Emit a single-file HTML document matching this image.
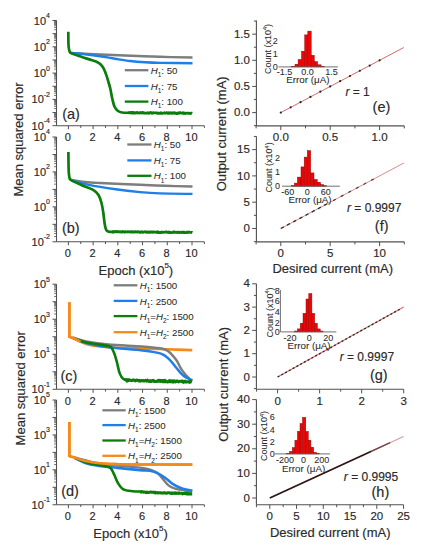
<!DOCTYPE html>
<html><head><meta charset="utf-8"><style>
html,body{margin:0;padding:0;background:#fff;width:430px;height:550px;overflow:hidden}
svg{display:block;font-family:"Liberation Sans", sans-serif}
text{stroke:#2a2a2a;stroke-width:0.16px}
.sm{stroke-width:0.06px}
</style></head><body>
<svg width="430" height="550" viewBox="0 0 430 550">
<rect width="430" height="550" fill="#fff"/>
<line x1="56.5" y1="20.5" x2="56.5" y2="125.7" stroke="#505050" stroke-width="1.1"/>
<line x1="52.5" y1="125.7" x2="56.5" y2="125.7" stroke="#505050" stroke-width="1"/>
<line x1="54.1" y1="121.74" x2="56.5" y2="121.74" stroke="#505050" stroke-width="0.8"/>
<line x1="54.1" y1="119.43" x2="56.5" y2="119.43" stroke="#505050" stroke-width="0.8"/>
<line x1="54.1" y1="117.78" x2="56.5" y2="117.78" stroke="#505050" stroke-width="0.8"/>
<line x1="54.1" y1="116.51" x2="56.5" y2="116.51" stroke="#505050" stroke-width="0.8"/>
<line x1="54.1" y1="115.47" x2="56.5" y2="115.47" stroke="#505050" stroke-width="0.8"/>
<line x1="54.1" y1="114.59" x2="56.5" y2="114.59" stroke="#505050" stroke-width="0.8"/>
<line x1="54.1" y1="113.82" x2="56.5" y2="113.82" stroke="#505050" stroke-width="0.8"/>
<line x1="54.1" y1="113.15" x2="56.5" y2="113.15" stroke="#505050" stroke-width="0.8"/>
<line x1="52.5" y1="112.55" x2="56.5" y2="112.55" stroke="#505050" stroke-width="1"/>
<line x1="54.1" y1="108.59" x2="56.5" y2="108.59" stroke="#505050" stroke-width="0.8"/>
<line x1="54.1" y1="106.28" x2="56.5" y2="106.28" stroke="#505050" stroke-width="0.8"/>
<line x1="54.1" y1="104.63" x2="56.5" y2="104.63" stroke="#505050" stroke-width="0.8"/>
<line x1="54.1" y1="103.36" x2="56.5" y2="103.36" stroke="#505050" stroke-width="0.8"/>
<line x1="54.1" y1="102.32" x2="56.5" y2="102.32" stroke="#505050" stroke-width="0.8"/>
<line x1="54.1" y1="101.44" x2="56.5" y2="101.44" stroke="#505050" stroke-width="0.8"/>
<line x1="54.1" y1="100.67" x2="56.5" y2="100.67" stroke="#505050" stroke-width="0.8"/>
<line x1="54.1" y1="100" x2="56.5" y2="100" stroke="#505050" stroke-width="0.8"/>
<line x1="52.5" y1="99.4" x2="56.5" y2="99.4" stroke="#505050" stroke-width="1"/>
<line x1="54.1" y1="95.44" x2="56.5" y2="95.44" stroke="#505050" stroke-width="0.8"/>
<line x1="54.1" y1="93.13" x2="56.5" y2="93.13" stroke="#505050" stroke-width="0.8"/>
<line x1="54.1" y1="91.48" x2="56.5" y2="91.48" stroke="#505050" stroke-width="0.8"/>
<line x1="54.1" y1="90.21" x2="56.5" y2="90.21" stroke="#505050" stroke-width="0.8"/>
<line x1="54.1" y1="89.17" x2="56.5" y2="89.17" stroke="#505050" stroke-width="0.8"/>
<line x1="54.1" y1="88.29" x2="56.5" y2="88.29" stroke="#505050" stroke-width="0.8"/>
<line x1="54.1" y1="87.52" x2="56.5" y2="87.52" stroke="#505050" stroke-width="0.8"/>
<line x1="54.1" y1="86.85" x2="56.5" y2="86.85" stroke="#505050" stroke-width="0.8"/>
<line x1="52.5" y1="86.25" x2="56.5" y2="86.25" stroke="#505050" stroke-width="1"/>
<line x1="54.1" y1="82.29" x2="56.5" y2="82.29" stroke="#505050" stroke-width="0.8"/>
<line x1="54.1" y1="79.98" x2="56.5" y2="79.98" stroke="#505050" stroke-width="0.8"/>
<line x1="54.1" y1="78.33" x2="56.5" y2="78.33" stroke="#505050" stroke-width="0.8"/>
<line x1="54.1" y1="77.06" x2="56.5" y2="77.06" stroke="#505050" stroke-width="0.8"/>
<line x1="54.1" y1="76.02" x2="56.5" y2="76.02" stroke="#505050" stroke-width="0.8"/>
<line x1="54.1" y1="75.14" x2="56.5" y2="75.14" stroke="#505050" stroke-width="0.8"/>
<line x1="54.1" y1="74.37" x2="56.5" y2="74.37" stroke="#505050" stroke-width="0.8"/>
<line x1="54.1" y1="73.7" x2="56.5" y2="73.7" stroke="#505050" stroke-width="0.8"/>
<line x1="52.5" y1="73.1" x2="56.5" y2="73.1" stroke="#505050" stroke-width="1"/>
<line x1="54.1" y1="69.14" x2="56.5" y2="69.14" stroke="#505050" stroke-width="0.8"/>
<line x1="54.1" y1="66.83" x2="56.5" y2="66.83" stroke="#505050" stroke-width="0.8"/>
<line x1="54.1" y1="65.18" x2="56.5" y2="65.18" stroke="#505050" stroke-width="0.8"/>
<line x1="54.1" y1="63.91" x2="56.5" y2="63.91" stroke="#505050" stroke-width="0.8"/>
<line x1="54.1" y1="62.87" x2="56.5" y2="62.87" stroke="#505050" stroke-width="0.8"/>
<line x1="54.1" y1="61.99" x2="56.5" y2="61.99" stroke="#505050" stroke-width="0.8"/>
<line x1="54.1" y1="61.22" x2="56.5" y2="61.22" stroke="#505050" stroke-width="0.8"/>
<line x1="54.1" y1="60.55" x2="56.5" y2="60.55" stroke="#505050" stroke-width="0.8"/>
<line x1="52.5" y1="59.95" x2="56.5" y2="59.95" stroke="#505050" stroke-width="1"/>
<line x1="54.1" y1="55.99" x2="56.5" y2="55.99" stroke="#505050" stroke-width="0.8"/>
<line x1="54.1" y1="53.68" x2="56.5" y2="53.68" stroke="#505050" stroke-width="0.8"/>
<line x1="54.1" y1="52.03" x2="56.5" y2="52.03" stroke="#505050" stroke-width="0.8"/>
<line x1="54.1" y1="50.76" x2="56.5" y2="50.76" stroke="#505050" stroke-width="0.8"/>
<line x1="54.1" y1="49.72" x2="56.5" y2="49.72" stroke="#505050" stroke-width="0.8"/>
<line x1="54.1" y1="48.84" x2="56.5" y2="48.84" stroke="#505050" stroke-width="0.8"/>
<line x1="54.1" y1="48.07" x2="56.5" y2="48.07" stroke="#505050" stroke-width="0.8"/>
<line x1="54.1" y1="47.4" x2="56.5" y2="47.4" stroke="#505050" stroke-width="0.8"/>
<line x1="52.5" y1="46.8" x2="56.5" y2="46.8" stroke="#505050" stroke-width="1"/>
<line x1="54.1" y1="42.84" x2="56.5" y2="42.84" stroke="#505050" stroke-width="0.8"/>
<line x1="54.1" y1="40.53" x2="56.5" y2="40.53" stroke="#505050" stroke-width="0.8"/>
<line x1="54.1" y1="38.88" x2="56.5" y2="38.88" stroke="#505050" stroke-width="0.8"/>
<line x1="54.1" y1="37.61" x2="56.5" y2="37.61" stroke="#505050" stroke-width="0.8"/>
<line x1="54.1" y1="36.57" x2="56.5" y2="36.57" stroke="#505050" stroke-width="0.8"/>
<line x1="54.1" y1="35.69" x2="56.5" y2="35.69" stroke="#505050" stroke-width="0.8"/>
<line x1="54.1" y1="34.92" x2="56.5" y2="34.92" stroke="#505050" stroke-width="0.8"/>
<line x1="54.1" y1="34.25" x2="56.5" y2="34.25" stroke="#505050" stroke-width="0.8"/>
<line x1="52.5" y1="33.65" x2="56.5" y2="33.65" stroke="#505050" stroke-width="1"/>
<line x1="54.1" y1="29.69" x2="56.5" y2="29.69" stroke="#505050" stroke-width="0.8"/>
<line x1="54.1" y1="27.38" x2="56.5" y2="27.38" stroke="#505050" stroke-width="0.8"/>
<line x1="54.1" y1="25.73" x2="56.5" y2="25.73" stroke="#505050" stroke-width="0.8"/>
<line x1="54.1" y1="24.46" x2="56.5" y2="24.46" stroke="#505050" stroke-width="0.8"/>
<line x1="54.1" y1="23.42" x2="56.5" y2="23.42" stroke="#505050" stroke-width="0.8"/>
<line x1="54.1" y1="22.54" x2="56.5" y2="22.54" stroke="#505050" stroke-width="0.8"/>
<line x1="54.1" y1="21.77" x2="56.5" y2="21.77" stroke="#505050" stroke-width="0.8"/>
<line x1="54.1" y1="21.1" x2="56.5" y2="21.1" stroke="#505050" stroke-width="0.8"/>
<line x1="52.5" y1="20.5" x2="56.5" y2="20.5" stroke="#505050" stroke-width="1"/>
<line x1="56.5" y1="125.7" x2="204.3" y2="125.7" stroke="#505050" stroke-width="1.1"/>
<line x1="68.4" y1="125.7" x2="68.4" y2="129.2" stroke="#505050" stroke-width="1"/>
<line x1="80.76" y1="125.7" x2="80.76" y2="127.9" stroke="#505050" stroke-width="1"/>
<line x1="93.12" y1="125.7" x2="93.12" y2="129.2" stroke="#505050" stroke-width="1"/>
<line x1="105.48" y1="125.7" x2="105.48" y2="127.9" stroke="#505050" stroke-width="1"/>
<line x1="117.84" y1="125.7" x2="117.84" y2="129.2" stroke="#505050" stroke-width="1"/>
<line x1="130.2" y1="125.7" x2="130.2" y2="127.9" stroke="#505050" stroke-width="1"/>
<line x1="142.56" y1="125.7" x2="142.56" y2="129.2" stroke="#505050" stroke-width="1"/>
<line x1="154.92" y1="125.7" x2="154.92" y2="127.9" stroke="#505050" stroke-width="1"/>
<line x1="167.28" y1="125.7" x2="167.28" y2="129.2" stroke="#505050" stroke-width="1"/>
<line x1="179.64" y1="125.7" x2="179.64" y2="127.9" stroke="#505050" stroke-width="1"/>
<line x1="192" y1="125.7" x2="192" y2="129.2" stroke="#505050" stroke-width="1"/>
<line x1="204.36" y1="125.7" x2="204.36" y2="127.9" stroke="#505050" stroke-width="1"/>
<text x="50" y="24.5" font-size="11" text-anchor="end" fill="#2a2a2a">10<tspan font-size="7" dy="-6.6">4</tspan></text>
<text x="50" y="50.8" font-size="11" text-anchor="end" fill="#2a2a2a">10<tspan font-size="7" dy="-6.6">2</tspan></text>
<text x="50" y="77.1" font-size="11" text-anchor="end" fill="#2a2a2a">10<tspan font-size="7" dy="-6.6">0</tspan></text>
<text x="50" y="103.4" font-size="11" text-anchor="end" fill="#2a2a2a">10<tspan font-size="7" dy="-6.6">-2</tspan></text>
<text x="50" y="129.7" font-size="11" text-anchor="end" fill="#2a2a2a">10<tspan font-size="7" dy="-6.6">-4</tspan></text>
<line x1="56.5" y1="137" x2="56.5" y2="241.8" stroke="#505050" stroke-width="1.1"/>
<line x1="52.5" y1="241.8" x2="56.5" y2="241.8" stroke="#505050" stroke-width="1"/>
<line x1="54.1" y1="236.54" x2="56.5" y2="236.54" stroke="#505050" stroke-width="0.8"/>
<line x1="54.1" y1="233.47" x2="56.5" y2="233.47" stroke="#505050" stroke-width="0.8"/>
<line x1="54.1" y1="231.28" x2="56.5" y2="231.28" stroke="#505050" stroke-width="0.8"/>
<line x1="54.1" y1="229.59" x2="56.5" y2="229.59" stroke="#505050" stroke-width="0.8"/>
<line x1="54.1" y1="228.21" x2="56.5" y2="228.21" stroke="#505050" stroke-width="0.8"/>
<line x1="54.1" y1="227.04" x2="56.5" y2="227.04" stroke="#505050" stroke-width="0.8"/>
<line x1="54.1" y1="226.03" x2="56.5" y2="226.03" stroke="#505050" stroke-width="0.8"/>
<line x1="54.1" y1="225.13" x2="56.5" y2="225.13" stroke="#505050" stroke-width="0.8"/>
<line x1="52.5" y1="224.33" x2="56.5" y2="224.33" stroke="#505050" stroke-width="1"/>
<line x1="54.1" y1="219.08" x2="56.5" y2="219.08" stroke="#505050" stroke-width="0.8"/>
<line x1="54.1" y1="216" x2="56.5" y2="216" stroke="#505050" stroke-width="0.8"/>
<line x1="54.1" y1="213.82" x2="56.5" y2="213.82" stroke="#505050" stroke-width="0.8"/>
<line x1="54.1" y1="212.12" x2="56.5" y2="212.12" stroke="#505050" stroke-width="0.8"/>
<line x1="54.1" y1="210.74" x2="56.5" y2="210.74" stroke="#505050" stroke-width="0.8"/>
<line x1="54.1" y1="209.57" x2="56.5" y2="209.57" stroke="#505050" stroke-width="0.8"/>
<line x1="54.1" y1="208.56" x2="56.5" y2="208.56" stroke="#505050" stroke-width="0.8"/>
<line x1="54.1" y1="207.67" x2="56.5" y2="207.67" stroke="#505050" stroke-width="0.8"/>
<line x1="52.5" y1="206.87" x2="56.5" y2="206.87" stroke="#505050" stroke-width="1"/>
<line x1="54.1" y1="201.61" x2="56.5" y2="201.61" stroke="#505050" stroke-width="0.8"/>
<line x1="54.1" y1="198.53" x2="56.5" y2="198.53" stroke="#505050" stroke-width="0.8"/>
<line x1="54.1" y1="196.35" x2="56.5" y2="196.35" stroke="#505050" stroke-width="0.8"/>
<line x1="54.1" y1="194.66" x2="56.5" y2="194.66" stroke="#505050" stroke-width="0.8"/>
<line x1="54.1" y1="193.27" x2="56.5" y2="193.27" stroke="#505050" stroke-width="0.8"/>
<line x1="54.1" y1="192.11" x2="56.5" y2="192.11" stroke="#505050" stroke-width="0.8"/>
<line x1="54.1" y1="191.09" x2="56.5" y2="191.09" stroke="#505050" stroke-width="0.8"/>
<line x1="54.1" y1="190.2" x2="56.5" y2="190.2" stroke="#505050" stroke-width="0.8"/>
<line x1="52.5" y1="189.4" x2="56.5" y2="189.4" stroke="#505050" stroke-width="1"/>
<line x1="54.1" y1="184.14" x2="56.5" y2="184.14" stroke="#505050" stroke-width="0.8"/>
<line x1="54.1" y1="181.07" x2="56.5" y2="181.07" stroke="#505050" stroke-width="0.8"/>
<line x1="54.1" y1="178.88" x2="56.5" y2="178.88" stroke="#505050" stroke-width="0.8"/>
<line x1="54.1" y1="177.19" x2="56.5" y2="177.19" stroke="#505050" stroke-width="0.8"/>
<line x1="54.1" y1="175.81" x2="56.5" y2="175.81" stroke="#505050" stroke-width="0.8"/>
<line x1="54.1" y1="174.64" x2="56.5" y2="174.64" stroke="#505050" stroke-width="0.8"/>
<line x1="54.1" y1="173.63" x2="56.5" y2="173.63" stroke="#505050" stroke-width="0.8"/>
<line x1="54.1" y1="172.73" x2="56.5" y2="172.73" stroke="#505050" stroke-width="0.8"/>
<line x1="52.5" y1="171.93" x2="56.5" y2="171.93" stroke="#505050" stroke-width="1"/>
<line x1="54.1" y1="166.68" x2="56.5" y2="166.68" stroke="#505050" stroke-width="0.8"/>
<line x1="54.1" y1="163.6" x2="56.5" y2="163.6" stroke="#505050" stroke-width="0.8"/>
<line x1="54.1" y1="161.42" x2="56.5" y2="161.42" stroke="#505050" stroke-width="0.8"/>
<line x1="54.1" y1="159.72" x2="56.5" y2="159.72" stroke="#505050" stroke-width="0.8"/>
<line x1="54.1" y1="158.34" x2="56.5" y2="158.34" stroke="#505050" stroke-width="0.8"/>
<line x1="54.1" y1="157.17" x2="56.5" y2="157.17" stroke="#505050" stroke-width="0.8"/>
<line x1="54.1" y1="156.16" x2="56.5" y2="156.16" stroke="#505050" stroke-width="0.8"/>
<line x1="54.1" y1="155.27" x2="56.5" y2="155.27" stroke="#505050" stroke-width="0.8"/>
<line x1="52.5" y1="154.47" x2="56.5" y2="154.47" stroke="#505050" stroke-width="1"/>
<line x1="54.1" y1="149.21" x2="56.5" y2="149.21" stroke="#505050" stroke-width="0.8"/>
<line x1="54.1" y1="146.13" x2="56.5" y2="146.13" stroke="#505050" stroke-width="0.8"/>
<line x1="54.1" y1="143.95" x2="56.5" y2="143.95" stroke="#505050" stroke-width="0.8"/>
<line x1="54.1" y1="142.26" x2="56.5" y2="142.26" stroke="#505050" stroke-width="0.8"/>
<line x1="54.1" y1="140.87" x2="56.5" y2="140.87" stroke="#505050" stroke-width="0.8"/>
<line x1="54.1" y1="139.71" x2="56.5" y2="139.71" stroke="#505050" stroke-width="0.8"/>
<line x1="54.1" y1="138.69" x2="56.5" y2="138.69" stroke="#505050" stroke-width="0.8"/>
<line x1="54.1" y1="137.8" x2="56.5" y2="137.8" stroke="#505050" stroke-width="0.8"/>
<line x1="52.5" y1="137" x2="56.5" y2="137" stroke="#505050" stroke-width="1"/>
<line x1="56.5" y1="241.8" x2="204.3" y2="241.8" stroke="#505050" stroke-width="1.1"/>
<line x1="68.4" y1="241.8" x2="68.4" y2="245.3" stroke="#505050" stroke-width="1"/>
<line x1="80.76" y1="241.8" x2="80.76" y2="244" stroke="#505050" stroke-width="1"/>
<line x1="93.12" y1="241.8" x2="93.12" y2="245.3" stroke="#505050" stroke-width="1"/>
<line x1="105.48" y1="241.8" x2="105.48" y2="244" stroke="#505050" stroke-width="1"/>
<line x1="117.84" y1="241.8" x2="117.84" y2="245.3" stroke="#505050" stroke-width="1"/>
<line x1="130.2" y1="241.8" x2="130.2" y2="244" stroke="#505050" stroke-width="1"/>
<line x1="142.56" y1="241.8" x2="142.56" y2="245.3" stroke="#505050" stroke-width="1"/>
<line x1="154.92" y1="241.8" x2="154.92" y2="244" stroke="#505050" stroke-width="1"/>
<line x1="167.28" y1="241.8" x2="167.28" y2="245.3" stroke="#505050" stroke-width="1"/>
<line x1="179.64" y1="241.8" x2="179.64" y2="244" stroke="#505050" stroke-width="1"/>
<line x1="192" y1="241.8" x2="192" y2="245.3" stroke="#505050" stroke-width="1"/>
<line x1="204.36" y1="241.8" x2="204.36" y2="244" stroke="#505050" stroke-width="1"/>
<text x="50" y="141" font-size="11" text-anchor="end" fill="#2a2a2a">10<tspan font-size="7" dy="-6.6">4</tspan></text>
<text x="50" y="175.93" font-size="11" text-anchor="end" fill="#2a2a2a">10<tspan font-size="7" dy="-6.6">2</tspan></text>
<text x="50" y="210.87" font-size="11" text-anchor="end" fill="#2a2a2a">10<tspan font-size="7" dy="-6.6">0</tspan></text>
<text x="50" y="245.8" font-size="11" text-anchor="end" fill="#2a2a2a">10<tspan font-size="7" dy="-6.6">-2</tspan></text>
<line x1="56.5" y1="284.2" x2="56.5" y2="389.3" stroke="#505050" stroke-width="1.1"/>
<line x1="52.5" y1="389.3" x2="56.5" y2="389.3" stroke="#505050" stroke-width="1"/>
<line x1="54.1" y1="384.03" x2="56.5" y2="384.03" stroke="#505050" stroke-width="0.8"/>
<line x1="54.1" y1="380.94" x2="56.5" y2="380.94" stroke="#505050" stroke-width="0.8"/>
<line x1="54.1" y1="378.75" x2="56.5" y2="378.75" stroke="#505050" stroke-width="0.8"/>
<line x1="54.1" y1="377.06" x2="56.5" y2="377.06" stroke="#505050" stroke-width="0.8"/>
<line x1="54.1" y1="375.67" x2="56.5" y2="375.67" stroke="#505050" stroke-width="0.8"/>
<line x1="54.1" y1="374.5" x2="56.5" y2="374.5" stroke="#505050" stroke-width="0.8"/>
<line x1="54.1" y1="373.48" x2="56.5" y2="373.48" stroke="#505050" stroke-width="0.8"/>
<line x1="54.1" y1="372.58" x2="56.5" y2="372.58" stroke="#505050" stroke-width="0.8"/>
<line x1="52.5" y1="371.78" x2="56.5" y2="371.78" stroke="#505050" stroke-width="1"/>
<line x1="54.1" y1="366.51" x2="56.5" y2="366.51" stroke="#505050" stroke-width="0.8"/>
<line x1="54.1" y1="363.43" x2="56.5" y2="363.43" stroke="#505050" stroke-width="0.8"/>
<line x1="54.1" y1="361.24" x2="56.5" y2="361.24" stroke="#505050" stroke-width="0.8"/>
<line x1="54.1" y1="359.54" x2="56.5" y2="359.54" stroke="#505050" stroke-width="0.8"/>
<line x1="54.1" y1="358.15" x2="56.5" y2="358.15" stroke="#505050" stroke-width="0.8"/>
<line x1="54.1" y1="356.98" x2="56.5" y2="356.98" stroke="#505050" stroke-width="0.8"/>
<line x1="54.1" y1="355.96" x2="56.5" y2="355.96" stroke="#505050" stroke-width="0.8"/>
<line x1="54.1" y1="355.07" x2="56.5" y2="355.07" stroke="#505050" stroke-width="0.8"/>
<line x1="52.5" y1="354.27" x2="56.5" y2="354.27" stroke="#505050" stroke-width="1"/>
<line x1="54.1" y1="348.99" x2="56.5" y2="348.99" stroke="#505050" stroke-width="0.8"/>
<line x1="54.1" y1="345.91" x2="56.5" y2="345.91" stroke="#505050" stroke-width="0.8"/>
<line x1="54.1" y1="343.72" x2="56.5" y2="343.72" stroke="#505050" stroke-width="0.8"/>
<line x1="54.1" y1="342.02" x2="56.5" y2="342.02" stroke="#505050" stroke-width="0.8"/>
<line x1="54.1" y1="340.64" x2="56.5" y2="340.64" stroke="#505050" stroke-width="0.8"/>
<line x1="54.1" y1="339.46" x2="56.5" y2="339.46" stroke="#505050" stroke-width="0.8"/>
<line x1="54.1" y1="338.45" x2="56.5" y2="338.45" stroke="#505050" stroke-width="0.8"/>
<line x1="54.1" y1="337.55" x2="56.5" y2="337.55" stroke="#505050" stroke-width="0.8"/>
<line x1="52.5" y1="336.75" x2="56.5" y2="336.75" stroke="#505050" stroke-width="1"/>
<line x1="54.1" y1="331.48" x2="56.5" y2="331.48" stroke="#505050" stroke-width="0.8"/>
<line x1="54.1" y1="328.39" x2="56.5" y2="328.39" stroke="#505050" stroke-width="0.8"/>
<line x1="54.1" y1="326.2" x2="56.5" y2="326.2" stroke="#505050" stroke-width="0.8"/>
<line x1="54.1" y1="324.51" x2="56.5" y2="324.51" stroke="#505050" stroke-width="0.8"/>
<line x1="54.1" y1="323.12" x2="56.5" y2="323.12" stroke="#505050" stroke-width="0.8"/>
<line x1="54.1" y1="321.95" x2="56.5" y2="321.95" stroke="#505050" stroke-width="0.8"/>
<line x1="54.1" y1="320.93" x2="56.5" y2="320.93" stroke="#505050" stroke-width="0.8"/>
<line x1="54.1" y1="320.03" x2="56.5" y2="320.03" stroke="#505050" stroke-width="0.8"/>
<line x1="52.5" y1="319.23" x2="56.5" y2="319.23" stroke="#505050" stroke-width="1"/>
<line x1="54.1" y1="313.96" x2="56.5" y2="313.96" stroke="#505050" stroke-width="0.8"/>
<line x1="54.1" y1="310.88" x2="56.5" y2="310.88" stroke="#505050" stroke-width="0.8"/>
<line x1="54.1" y1="308.69" x2="56.5" y2="308.69" stroke="#505050" stroke-width="0.8"/>
<line x1="54.1" y1="306.99" x2="56.5" y2="306.99" stroke="#505050" stroke-width="0.8"/>
<line x1="54.1" y1="305.6" x2="56.5" y2="305.6" stroke="#505050" stroke-width="0.8"/>
<line x1="54.1" y1="304.43" x2="56.5" y2="304.43" stroke="#505050" stroke-width="0.8"/>
<line x1="54.1" y1="303.41" x2="56.5" y2="303.41" stroke="#505050" stroke-width="0.8"/>
<line x1="54.1" y1="302.52" x2="56.5" y2="302.52" stroke="#505050" stroke-width="0.8"/>
<line x1="52.5" y1="301.72" x2="56.5" y2="301.72" stroke="#505050" stroke-width="1"/>
<line x1="54.1" y1="296.44" x2="56.5" y2="296.44" stroke="#505050" stroke-width="0.8"/>
<line x1="54.1" y1="293.36" x2="56.5" y2="293.36" stroke="#505050" stroke-width="0.8"/>
<line x1="54.1" y1="291.17" x2="56.5" y2="291.17" stroke="#505050" stroke-width="0.8"/>
<line x1="54.1" y1="289.47" x2="56.5" y2="289.47" stroke="#505050" stroke-width="0.8"/>
<line x1="54.1" y1="288.09" x2="56.5" y2="288.09" stroke="#505050" stroke-width="0.8"/>
<line x1="54.1" y1="286.91" x2="56.5" y2="286.91" stroke="#505050" stroke-width="0.8"/>
<line x1="54.1" y1="285.9" x2="56.5" y2="285.9" stroke="#505050" stroke-width="0.8"/>
<line x1="54.1" y1="285" x2="56.5" y2="285" stroke="#505050" stroke-width="0.8"/>
<line x1="52.5" y1="284.2" x2="56.5" y2="284.2" stroke="#505050" stroke-width="1"/>
<line x1="56.5" y1="389.3" x2="204.3" y2="389.3" stroke="#505050" stroke-width="1.1"/>
<line x1="68.4" y1="389.3" x2="68.4" y2="392.8" stroke="#505050" stroke-width="1"/>
<line x1="80.76" y1="389.3" x2="80.76" y2="391.5" stroke="#505050" stroke-width="1"/>
<line x1="93.12" y1="389.3" x2="93.12" y2="392.8" stroke="#505050" stroke-width="1"/>
<line x1="105.48" y1="389.3" x2="105.48" y2="391.5" stroke="#505050" stroke-width="1"/>
<line x1="117.84" y1="389.3" x2="117.84" y2="392.8" stroke="#505050" stroke-width="1"/>
<line x1="130.2" y1="389.3" x2="130.2" y2="391.5" stroke="#505050" stroke-width="1"/>
<line x1="142.56" y1="389.3" x2="142.56" y2="392.8" stroke="#505050" stroke-width="1"/>
<line x1="154.92" y1="389.3" x2="154.92" y2="391.5" stroke="#505050" stroke-width="1"/>
<line x1="167.28" y1="389.3" x2="167.28" y2="392.8" stroke="#505050" stroke-width="1"/>
<line x1="179.64" y1="389.3" x2="179.64" y2="391.5" stroke="#505050" stroke-width="1"/>
<line x1="192" y1="389.3" x2="192" y2="392.8" stroke="#505050" stroke-width="1"/>
<line x1="204.36" y1="389.3" x2="204.36" y2="391.5" stroke="#505050" stroke-width="1"/>
<text x="50" y="288.2" font-size="11" text-anchor="end" fill="#2a2a2a">10<tspan font-size="7" dy="-6.6">5</tspan></text>
<text x="50" y="323.23" font-size="11" text-anchor="end" fill="#2a2a2a">10<tspan font-size="7" dy="-6.6">3</tspan></text>
<text x="50" y="358.27" font-size="11" text-anchor="end" fill="#2a2a2a">10<tspan font-size="7" dy="-6.6">1</tspan></text>
<text x="50" y="393.3" font-size="11" text-anchor="end" fill="#2a2a2a">10<tspan font-size="7" dy="-6.6">-1</tspan></text>
<line x1="56.5" y1="400" x2="56.5" y2="504.75" stroke="#505050" stroke-width="1.1"/>
<line x1="52.5" y1="504.75" x2="56.5" y2="504.75" stroke="#505050" stroke-width="1"/>
<line x1="54.1" y1="499.49" x2="56.5" y2="499.49" stroke="#505050" stroke-width="0.8"/>
<line x1="54.1" y1="496.42" x2="56.5" y2="496.42" stroke="#505050" stroke-width="0.8"/>
<line x1="54.1" y1="494.24" x2="56.5" y2="494.24" stroke="#505050" stroke-width="0.8"/>
<line x1="54.1" y1="492.55" x2="56.5" y2="492.55" stroke="#505050" stroke-width="0.8"/>
<line x1="54.1" y1="491.16" x2="56.5" y2="491.16" stroke="#505050" stroke-width="0.8"/>
<line x1="54.1" y1="490" x2="56.5" y2="490" stroke="#505050" stroke-width="0.8"/>
<line x1="54.1" y1="488.98" x2="56.5" y2="488.98" stroke="#505050" stroke-width="0.8"/>
<line x1="54.1" y1="488.09" x2="56.5" y2="488.09" stroke="#505050" stroke-width="0.8"/>
<line x1="52.5" y1="487.29" x2="56.5" y2="487.29" stroke="#505050" stroke-width="1"/>
<line x1="54.1" y1="482.04" x2="56.5" y2="482.04" stroke="#505050" stroke-width="0.8"/>
<line x1="54.1" y1="478.96" x2="56.5" y2="478.96" stroke="#505050" stroke-width="0.8"/>
<line x1="54.1" y1="476.78" x2="56.5" y2="476.78" stroke="#505050" stroke-width="0.8"/>
<line x1="54.1" y1="475.09" x2="56.5" y2="475.09" stroke="#505050" stroke-width="0.8"/>
<line x1="54.1" y1="473.71" x2="56.5" y2="473.71" stroke="#505050" stroke-width="0.8"/>
<line x1="54.1" y1="472.54" x2="56.5" y2="472.54" stroke="#505050" stroke-width="0.8"/>
<line x1="54.1" y1="471.53" x2="56.5" y2="471.53" stroke="#505050" stroke-width="0.8"/>
<line x1="54.1" y1="470.63" x2="56.5" y2="470.63" stroke="#505050" stroke-width="0.8"/>
<line x1="52.5" y1="469.83" x2="56.5" y2="469.83" stroke="#505050" stroke-width="1"/>
<line x1="54.1" y1="464.58" x2="56.5" y2="464.58" stroke="#505050" stroke-width="0.8"/>
<line x1="54.1" y1="461.5" x2="56.5" y2="461.5" stroke="#505050" stroke-width="0.8"/>
<line x1="54.1" y1="459.32" x2="56.5" y2="459.32" stroke="#505050" stroke-width="0.8"/>
<line x1="54.1" y1="457.63" x2="56.5" y2="457.63" stroke="#505050" stroke-width="0.8"/>
<line x1="54.1" y1="456.25" x2="56.5" y2="456.25" stroke="#505050" stroke-width="0.8"/>
<line x1="54.1" y1="455.08" x2="56.5" y2="455.08" stroke="#505050" stroke-width="0.8"/>
<line x1="54.1" y1="454.07" x2="56.5" y2="454.07" stroke="#505050" stroke-width="0.8"/>
<line x1="54.1" y1="453.17" x2="56.5" y2="453.17" stroke="#505050" stroke-width="0.8"/>
<line x1="52.5" y1="452.38" x2="56.5" y2="452.38" stroke="#505050" stroke-width="1"/>
<line x1="54.1" y1="447.12" x2="56.5" y2="447.12" stroke="#505050" stroke-width="0.8"/>
<line x1="54.1" y1="444.05" x2="56.5" y2="444.05" stroke="#505050" stroke-width="0.8"/>
<line x1="54.1" y1="441.86" x2="56.5" y2="441.86" stroke="#505050" stroke-width="0.8"/>
<line x1="54.1" y1="440.17" x2="56.5" y2="440.17" stroke="#505050" stroke-width="0.8"/>
<line x1="54.1" y1="438.79" x2="56.5" y2="438.79" stroke="#505050" stroke-width="0.8"/>
<line x1="54.1" y1="437.62" x2="56.5" y2="437.62" stroke="#505050" stroke-width="0.8"/>
<line x1="54.1" y1="436.61" x2="56.5" y2="436.61" stroke="#505050" stroke-width="0.8"/>
<line x1="54.1" y1="435.72" x2="56.5" y2="435.72" stroke="#505050" stroke-width="0.8"/>
<line x1="52.5" y1="434.92" x2="56.5" y2="434.92" stroke="#505050" stroke-width="1"/>
<line x1="54.1" y1="429.66" x2="56.5" y2="429.66" stroke="#505050" stroke-width="0.8"/>
<line x1="54.1" y1="426.59" x2="56.5" y2="426.59" stroke="#505050" stroke-width="0.8"/>
<line x1="54.1" y1="424.41" x2="56.5" y2="424.41" stroke="#505050" stroke-width="0.8"/>
<line x1="54.1" y1="422.71" x2="56.5" y2="422.71" stroke="#505050" stroke-width="0.8"/>
<line x1="54.1" y1="421.33" x2="56.5" y2="421.33" stroke="#505050" stroke-width="0.8"/>
<line x1="54.1" y1="420.16" x2="56.5" y2="420.16" stroke="#505050" stroke-width="0.8"/>
<line x1="54.1" y1="419.15" x2="56.5" y2="419.15" stroke="#505050" stroke-width="0.8"/>
<line x1="54.1" y1="418.26" x2="56.5" y2="418.26" stroke="#505050" stroke-width="0.8"/>
<line x1="52.5" y1="417.46" x2="56.5" y2="417.46" stroke="#505050" stroke-width="1"/>
<line x1="54.1" y1="412.2" x2="56.5" y2="412.2" stroke="#505050" stroke-width="0.8"/>
<line x1="54.1" y1="409.13" x2="56.5" y2="409.13" stroke="#505050" stroke-width="0.8"/>
<line x1="54.1" y1="406.95" x2="56.5" y2="406.95" stroke="#505050" stroke-width="0.8"/>
<line x1="54.1" y1="405.26" x2="56.5" y2="405.26" stroke="#505050" stroke-width="0.8"/>
<line x1="54.1" y1="403.87" x2="56.5" y2="403.87" stroke="#505050" stroke-width="0.8"/>
<line x1="54.1" y1="402.7" x2="56.5" y2="402.7" stroke="#505050" stroke-width="0.8"/>
<line x1="54.1" y1="401.69" x2="56.5" y2="401.69" stroke="#505050" stroke-width="0.8"/>
<line x1="54.1" y1="400.8" x2="56.5" y2="400.8" stroke="#505050" stroke-width="0.8"/>
<line x1="52.5" y1="400" x2="56.5" y2="400" stroke="#505050" stroke-width="1"/>
<line x1="56.5" y1="504.75" x2="204.3" y2="504.75" stroke="#505050" stroke-width="1.1"/>
<line x1="68.4" y1="504.75" x2="68.4" y2="508.25" stroke="#505050" stroke-width="1"/>
<line x1="80.76" y1="504.75" x2="80.76" y2="506.95" stroke="#505050" stroke-width="1"/>
<line x1="93.12" y1="504.75" x2="93.12" y2="508.25" stroke="#505050" stroke-width="1"/>
<line x1="105.48" y1="504.75" x2="105.48" y2="506.95" stroke="#505050" stroke-width="1"/>
<line x1="117.84" y1="504.75" x2="117.84" y2="508.25" stroke="#505050" stroke-width="1"/>
<line x1="130.2" y1="504.75" x2="130.2" y2="506.95" stroke="#505050" stroke-width="1"/>
<line x1="142.56" y1="504.75" x2="142.56" y2="508.25" stroke="#505050" stroke-width="1"/>
<line x1="154.92" y1="504.75" x2="154.92" y2="506.95" stroke="#505050" stroke-width="1"/>
<line x1="167.28" y1="504.75" x2="167.28" y2="508.25" stroke="#505050" stroke-width="1"/>
<line x1="179.64" y1="504.75" x2="179.64" y2="506.95" stroke="#505050" stroke-width="1"/>
<line x1="192" y1="504.75" x2="192" y2="508.25" stroke="#505050" stroke-width="1"/>
<line x1="204.36" y1="504.75" x2="204.36" y2="506.95" stroke="#505050" stroke-width="1"/>
<text x="50" y="404" font-size="11" text-anchor="end" fill="#2a2a2a">10<tspan font-size="7" dy="-6.6">5</tspan></text>
<text x="50" y="438.92" font-size="11" text-anchor="end" fill="#2a2a2a">10<tspan font-size="7" dy="-6.6">3</tspan></text>
<text x="50" y="473.83" font-size="11" text-anchor="end" fill="#2a2a2a">10<tspan font-size="7" dy="-6.6">1</tspan></text>
<text x="50" y="508.75" font-size="11" text-anchor="end" fill="#2a2a2a">10<tspan font-size="7" dy="-6.6">-1</tspan></text>
<text x="67.8" y="141" font-size="11" text-anchor="middle" fill="#2a2a2a" >0</text>
<text x="92.52" y="141" font-size="11" text-anchor="middle" fill="#2a2a2a" >2</text>
<text x="117.24" y="141" font-size="11" text-anchor="middle" fill="#2a2a2a" >4</text>
<text x="141.96" y="141" font-size="11" text-anchor="middle" fill="#2a2a2a" >6</text>
<text x="166.68" y="141" font-size="11" text-anchor="middle" fill="#2a2a2a" >8</text>
<text x="191.4" y="141" font-size="11" text-anchor="middle" fill="#2a2a2a" >10</text>
<text x="67.8" y="257" font-size="11" text-anchor="middle" fill="#2a2a2a" >0</text>
<text x="92.52" y="257" font-size="11" text-anchor="middle" fill="#2a2a2a" >2</text>
<text x="117.24" y="257" font-size="11" text-anchor="middle" fill="#2a2a2a" >4</text>
<text x="141.96" y="257" font-size="11" text-anchor="middle" fill="#2a2a2a" >6</text>
<text x="166.68" y="257" font-size="11" text-anchor="middle" fill="#2a2a2a" >8</text>
<text x="191.4" y="257" font-size="11" text-anchor="middle" fill="#2a2a2a" >10</text>
<text x="67.8" y="405" font-size="11" text-anchor="middle" fill="#2a2a2a" >0</text>
<text x="92.52" y="405" font-size="11" text-anchor="middle" fill="#2a2a2a" >2</text>
<text x="117.24" y="405" font-size="11" text-anchor="middle" fill="#2a2a2a" >4</text>
<text x="141.96" y="405" font-size="11" text-anchor="middle" fill="#2a2a2a" >6</text>
<text x="166.68" y="405" font-size="11" text-anchor="middle" fill="#2a2a2a" >8</text>
<text x="191.4" y="405" font-size="11" text-anchor="middle" fill="#2a2a2a" >10</text>
<text x="67.8" y="520" font-size="11" text-anchor="middle" fill="#2a2a2a" >0</text>
<text x="92.52" y="520" font-size="11" text-anchor="middle" fill="#2a2a2a" >2</text>
<text x="117.24" y="520" font-size="11" text-anchor="middle" fill="#2a2a2a" >4</text>
<text x="141.96" y="520" font-size="11" text-anchor="middle" fill="#2a2a2a" >6</text>
<text x="166.68" y="520" font-size="11" text-anchor="middle" fill="#2a2a2a" >8</text>
<text x="191.4" y="520" font-size="11" text-anchor="middle" fill="#2a2a2a" >10</text>
<text x="130.6" y="537.8" font-size="13" text-anchor="middle" fill="#2a2a2a" >Epoch (x10<tspan font-size="8" dy="-6.5">5</tspan><tspan dy="6.5">)</tspan></text>
<text x="135.9" y="274.6" font-size="13" text-anchor="middle" fill="#2a2a2a" >Epoch (x10<tspan font-size="8" dy="-6.5">5</tspan><tspan dy="6.5">)</tspan></text>
<text x="0" y="0" font-size="13" text-anchor="middle" fill="#2a2a2a" transform="translate(23.2,139.5) rotate(-90)">Mean squared error</text>
<text x="0" y="0" font-size="13" text-anchor="middle" fill="#2a2a2a" transform="translate(25,388.3) rotate(-90)">Mean squared error</text>
<path d="M71,53 C75,53.2 86,53.78 95,54.2 C104,54.62 114.17,55.07 125,55.5 C135.83,55.93 148.75,56.47 160,56.8 C171.25,57.13 187.08,57.38 192.5,57.5" fill="none" stroke="#7d7d7d" stroke-width="2.4" stroke-linejoin="round" />
<path d="M71,53 C73.33,53.22 80.17,53.77 85,54.3 C89.83,54.83 95,55.47 100,56.2 C105,56.93 110,57.9 115,58.7 C120,59.5 125,60.4 130,61 C135,61.6 140,61.98 145,62.3 C150,62.62 152.08,62.75 160,62.9 C167.92,63.05 187.08,63.15 192.5,63.2" fill="none" stroke="#1f7fe8" stroke-width="2.4" stroke-linejoin="round" />
<path d="M68.3,31.8 C68.33,34 68.33,41.88 68.5,45 C68.67,48.12 68.8,49.1 69.3,50.5 C69.8,51.9 69.38,52.32 71.5,53.4 C73.62,54.48 78.92,55.97 82,57 C85.08,58.03 87.67,58.83 90,59.6 C92.33,60.37 94.25,60.82 96,61.6 C97.75,62.38 99.23,63.17 100.5,64.3 C101.77,65.43 102.6,66.52 103.6,68.4 C104.6,70.28 105.67,73.25 106.5,75.6 C107.33,77.95 107.95,80.27 108.6,82.5 C109.25,84.73 109.8,86.37 110.4,89 C111,91.63 111.5,95.33 112.2,98.3 C112.9,101.27 113.63,104.68 114.6,106.8 C115.57,108.92 116.77,110.05 118,111 C119.23,111.95 120,112.2 122,112.5 C124,112.8 128.67,112.75 130,112.8" fill="none" stroke="#0a7d0a" stroke-width="2.7" stroke-linejoin="round" />
<path d="M128,112.46 L128.6,112.74 L129.2,112.59 L129.8,112.81 L130.4,112.83 L131,112.33 L131.6,112.29 L132.2,113.04 L132.8,112.52 L133.4,112.5 L134,113.19 L134.6,112.72 L135.2,113.06 L135.8,112.74 L136.4,112.89 L137,112.46 L137.6,112.9 L138.2,113.11 L138.8,112.8 L139.4,113.01 L140,112.95 L140.6,112.41 L141.2,113.03 L141.8,112.89 L142.4,112.63 L143,112.39 L143.6,113.15 L144.2,112.8 L144.8,113.03 L145.4,113.18 L146,113.03 L146.6,113.22 L147.2,112.75 L147.8,113.12 L148.4,112.81 L149,113.25 L149.6,113.21 L150.2,112.51 L150.8,112.55 L151.4,112.63 L152,113.3 L152.6,112.83 L153.2,113.01 L153.8,112.72 L154.4,112.91 L155,112.81 L155.6,112.78 L156.2,113 L156.8,113 L157.4,113.29 L158,113.1 L158.6,113.32 L159.2,113.26 L159.8,113.39 L160.4,113.11 L161,112.65 L161.6,113.29 L162.2,113.38 L162.8,113.33 L163.4,113.04 L164,113.17 L164.6,112.72 L165.2,113.29 L165.8,113.06 L166.4,112.8 L167,112.61 L167.6,113.33 L168.2,113.45 L168.8,112.65 L169.4,113.29 L170,112.94 L170.6,112.72 L171.2,112.85 L171.8,113.28 L172.4,113.38 L173,112.64 L173.6,113.16 L174.2,112.65 L174.8,113.26 L175.4,112.92 L176,113.41 L176.6,113.51 L177.2,113.09 L177.8,113.53 L178.4,112.92 L179,112.71 L179.6,113.19 L180.2,112.68 L180.8,112.84 L181.4,113.03 L182,113.22 L182.6,112.81 L183.2,112.72 L183.8,113.46 L184.4,112.97 L185,113.55 L185.6,113.5 L186.2,113.04 L186.8,113.12 L187.4,113.18 L188,113.29 L188.6,113.26 L189.2,113.23 L189.8,113.29 L190.4,113.58 L191,113.19 L191.6,113.13 L192.2,113.4" fill="none" stroke="#0a7d0a" stroke-width="2.8" stroke-linejoin="round" stroke-linecap="butt" />
<line x1="124.8" y1="70.2" x2="148.4" y2="70.2" stroke="#7d7d7d" stroke-width="2.3"/>
<text class="sm" x="150.7" y="73.8" font-size="9.7" fill="#2a2a2a"><tspan font-style="italic">H</tspan><tspan font-size="6.5" dy="3.2">1</tspan><tspan dy="-3.2">: </tspan>50</text>
<line x1="124.8" y1="86" x2="148.4" y2="86" stroke="#1f7fe8" stroke-width="2.3"/>
<text class="sm" x="150.7" y="89.6" font-size="9.7" fill="#2a2a2a"><tspan font-style="italic">H</tspan><tspan font-size="6.5" dy="3.2">1</tspan><tspan dy="-3.2">: </tspan>75</text>
<line x1="124.8" y1="101.6" x2="148.4" y2="101.6" stroke="#0a7d0a" stroke-width="2.3"/>
<text class="sm" x="150.7" y="105.2" font-size="9.7" fill="#2a2a2a"><tspan font-style="italic">H</tspan><tspan font-size="6.5" dy="3.2">1</tspan><tspan dy="-3.2">: </tspan>100</text>
<text x="62.2" y="118.8" font-size="14.5" text-anchor="start" fill="#2a2a2a" >(a)</text>
<path d="M71,180 C73.33,180.33 80.17,181.5 85,182 C89.83,182.5 90.83,182.53 100,183 C109.17,183.47 129.17,184.33 140,184.8 C150.83,185.27 156.25,185.52 165,185.8 C173.75,186.08 187.92,186.38 192.5,186.5" fill="none" stroke="#7d7d7d" stroke-width="2.4" stroke-linejoin="round" />
<path d="M71,180 C73.82,180.77 80.43,183.05 87.9,184.6 C95.37,186.15 107.12,188.05 115.8,189.3 C124.48,190.55 132.63,191.42 140,192.1 C147.37,192.78 151.25,193.1 160,193.4 C168.75,193.7 187.08,193.82 192.5,193.9" fill="none" stroke="#1f7fe8" stroke-width="2.4" stroke-linejoin="round" />
<path d="M68.4,152.1 C68.43,154.75 68.47,164.02 68.6,168 C68.73,171.98 68.8,174 69.2,176 C69.6,178 68.82,178.43 71,180 C73.18,181.57 78.55,183.7 82.3,185.4 C86.05,187.1 90.8,188.6 93.5,190.2 C96.2,191.8 97.17,192.87 98.5,195 C99.83,197.13 100.72,200.17 101.5,203 C102.28,205.83 102.67,208.5 103.2,212 C103.73,215.5 104.2,221.03 104.7,224 C105.2,226.97 105.57,228.53 106.2,229.8 C106.83,231.07 107.2,231.27 108.5,231.6 C109.8,231.93 113.08,231.77 114,231.8" fill="none" stroke="#0a7d0a" stroke-width="2.7" stroke-linejoin="round" />
<path d="M112,231.59 L112.6,231.65 L113.2,232.19 L113.8,231.83 L114.4,231.86 L115,231.43 L115.6,231.76 L116.2,231.9 L116.8,231.45 L117.4,231.93 L118,231.95 L118.6,231.5 L119.2,231.96 L119.8,231.83 L120.4,232.01 L121,231.75 L121.6,232.04 L122.2,232.07 L122.8,231.5 L123.4,231.53 L124,232.03 L124.6,232.26 L125.2,231.7 L125.8,231.87 L126.4,231.98 L127,231.77 L127.6,231.81 L128.2,231.77 L128.8,231.82 L129.4,232.01 L130,231.77 L130.6,231.84 L131.2,232.16 L131.8,231.57 L132.4,232.01 L133,232.14 L133.6,231.81 L134.2,231.74 L134.8,232.21 L135.4,231.77 L136,231.73 L136.6,231.93 L137.2,232.15 L137.8,231.67 L138.4,231.85 L139,231.87 L139.6,232.27 L140.2,231.96 L140.8,232.3 L141.4,231.75 L142,231.89 L142.6,232.15 L143.2,232.34 L143.8,232 L144.4,231.82 L145,231.74 L145.6,232.07 L146.2,231.81 L146.8,232.3 L147.4,232.33 L148,231.82 L148.6,231.9 L149.2,232.32 L149.8,232.2 L150.4,232.33 L151,231.97 L151.6,231.8 L152.2,231.93 L152.8,232.34 L153.4,231.93 L154,231.99 L154.6,232.05 L155.2,232.06 L155.8,232.05 L156.4,232.47 L157,231.86 L157.6,231.74 L158.2,232.5 L158.8,232.45 L159.4,232.54 L160,232.11 L160.6,232.52 L161.2,232.51 L161.8,231.95 L162.4,232.37 L163,232.45 L163.6,232.31 L164.2,232.2 L164.8,232.02 L165.4,232.07 L166,231.98 L166.6,231.86 L167.2,232.28 L167.8,232.05 L168.4,232.47 L169,231.86 L169.6,232.55 L170.2,232.39 L170.8,232.58 L171.4,232.56 L172,232.57 L172.6,232.31 L173.2,231.87 L173.8,232.46 L174.4,232 L175,232.11 L175.6,232.4 L176.2,232.3 L176.8,232.21 L177.4,232.64 L178,232.38 L178.6,232.17 L179.2,232.1 L179.8,232.59 L180.4,232.29 L181,232.54 L181.6,232.2 L182.2,232.08 L182.8,232.36 L183.4,232.59 L184,232.07 L184.6,232.57 L185.2,232.68 L185.8,232.59 L186.4,232.61 L187,231.97 L187.6,232.47 L188.2,232.66 L188.8,232.01 L189.4,232.19 L190,232.2 L190.6,232.41 L191.2,232.33 L191.8,232.37 L192.4,232.62" fill="none" stroke="#0a7d0a" stroke-width="2.8" stroke-linejoin="round" stroke-linecap="butt" />
<line x1="127.3" y1="144.5" x2="151.5" y2="144.5" stroke="#7d7d7d" stroke-width="2.3"/>
<text class="sm" x="153.8" y="148.1" font-size="9.7" fill="#2a2a2a"><tspan font-style="italic">H</tspan><tspan font-size="6.5" dy="3.2">1</tspan><tspan dy="-3.2">: </tspan>50</text>
<line x1="127.3" y1="160.4" x2="151.5" y2="160.4" stroke="#1f7fe8" stroke-width="2.3"/>
<text class="sm" x="153.8" y="164" font-size="9.7" fill="#2a2a2a"><tspan font-style="italic">H</tspan><tspan font-size="6.5" dy="3.2">1</tspan><tspan dy="-3.2">: </tspan>75</text>
<line x1="127.3" y1="175.8" x2="151.5" y2="175.8" stroke="#0a7d0a" stroke-width="2.3"/>
<text class="sm" x="153.8" y="179.4" font-size="9.7" fill="#2a2a2a"><tspan font-style="italic">H</tspan><tspan font-size="6.5" dy="3.2">1</tspan><tspan dy="-3.2">: </tspan>100</text>
<text x="61.9" y="232.6" font-size="14.5" text-anchor="start" fill="#2a2a2a" >(b)</text>
<path d="M69.4,302.3 C69.4,307.42 69.37,327.25 69.4,333 C69.43,338.75 68.97,335.97 69.6,336.8 C70.23,337.63 71.37,337.18 73.2,338 C75.03,338.82 77.82,340.52 80.6,341.7 C83.38,342.88 85.25,344.17 89.9,345.1 C94.55,346.03 99.82,346.72 108.5,347.3 C117.18,347.88 132.25,348.27 142,348.6 C151.75,348.93 158.62,349.05 167,349.3 C175.38,349.55 188.08,349.97 192.3,350.1" fill="none" stroke="#f28a1c" stroke-width="2.6" stroke-linejoin="round" />
<path d="M73.2,337.8 C75.37,338.4 80.32,340.28 86.2,341.4 C92.08,342.52 99.2,343.67 108.5,344.5 C117.8,345.33 133.42,345.77 142,346.4 C150.58,347.03 155.68,347.53 160,348.3 C164.32,349.07 165.18,349.03 167.9,351 C170.62,352.97 173.98,356.95 176.3,360.1 C178.62,363.25 179.6,366.75 181.8,369.9 C184,373.05 187.75,377.23 189.5,379 C191.25,380.77 191.83,380.25 192.3,380.5" fill="none" stroke="#7d7d7d" stroke-width="2.5" stroke-linejoin="round" />
<path d="M73.2,338 C75.37,338.83 80.32,341.45 86.2,343 C92.08,344.55 99.2,346.07 108.5,347.3 C117.8,348.53 133.27,349.35 142,350.4 C150.73,351.45 156.35,352.1 160.9,353.6 C165.45,355.1 166.73,357.03 169.3,359.4 C171.87,361.77 173.98,365.13 176.3,367.8 C178.62,370.47 180.53,373.28 183.2,375.4 C185.87,377.52 190.78,379.65 192.3,380.5" fill="none" stroke="#1f7fe8" stroke-width="2.5" stroke-linejoin="round" />
<path d="M73.2,338 C75.37,338.75 80.32,341.17 86.2,342.5 C92.08,343.83 104.17,344.92 108.5,346 C112.83,347.08 111.2,347.67 112.2,349 C113.2,350.33 113.72,351.8 114.5,354 C115.28,356.2 116.03,358.97 116.9,362.2 C117.77,365.43 118.62,370.6 119.7,373.4 C120.78,376.2 121.68,377.9 123.4,379 C125.12,380.1 128.9,379.83 130,380" fill="none" stroke="#0a7d0a" stroke-width="2.6" stroke-linejoin="round" />
<path d="M124,379.5 L124.6,379.6 L125.2,379.73 L125.8,379.74 L126.4,379.66 L127,381.13 L127.6,380.95 L128.2,379.73 L128.8,380.41 L129.4,380.12 L130,380.14 L130.6,380.21 L131.2,380.69 L131.8,380.61 L132.4,380.26 L133,380 L133.6,380.24 L134.2,379.92 L134.8,380.63 L135.4,380.9 L136,380.37 L136.6,379.9 L137.2,380.08 L137.8,380.4 L138.4,380.78 L139,381.08 L139.6,380.45 L140.2,381.14 L140.8,380.87 L141.4,380.57 L142,380.49 L142.6,380.7 L143.2,381.05 L143.8,380.61 L144.4,381.06 L145,380.7 L145.6,380.37 L146.2,380.84 L146.8,381.11 L147.4,380.13 L148,380.71 L148.6,380.72 L149.2,381.46 L149.8,381.56 L150.4,380.68 L151,381.53 L151.6,381.37 L152.2,380.54 L152.8,380.88 L153.4,380.34 L154,381.46 L154.6,381.23 L155.2,381.6 L155.8,381.47 L156.4,381.28 L157,381.4 L157.6,381.14 L158.2,380.42 L158.8,381.2 L159.4,380.29 L160,380.52 L160.6,381.54 L161.2,380.39 L161.8,380.48 L162.4,380.5 L163,381.77 L163.6,380.66 L164.2,380.42 L164.8,381.74 L165.4,380.6 L166,381.77 L166.6,381.51 L167.2,381.79 L167.8,381.99 L168.4,381.4 L169,381.77 L169.6,380.56 L170.2,381.74 L170.8,381.35 L171.4,381.69 L172,380.72 L172.6,381.77 L173.2,382.08 L173.8,380.69 L174.4,381.13 L175,381.52 L175.6,381.96 L176.2,381.03 L176.8,380.95 L177.4,381.07 L178,381.67 L178.6,381.9 L179.2,381.34 L179.8,381.31 L180.4,381.37 L181,381.31 L181.6,381.43 L182.2,380.91 L182.8,381.59 L183.4,382.36 L184,381.48 L184.6,382.03 L185.2,381.1 L185.8,381.96 L186.4,382.08 L187,381.96 L187.6,381.72 L188.2,381.68 L188.8,381.95 L189.4,382.37 L190,381.19 L190.6,381.12 L191.2,382.17 L191.8,382.46" fill="none" stroke="#0a7d0a" stroke-width="3.0" stroke-linejoin="round" stroke-linecap="butt" />
<path d="M69.4,302.3 C69.4,307.42 69.37,327.25 69.4,333 C69.43,338.75 68.97,335.97 69.6,336.8 C70.23,337.63 71.37,337.18 73.2,338 C75.03,338.82 79.37,341.08 80.6,341.7" fill="none" stroke="#f28a1c" stroke-width="2.6" stroke-linejoin="round" />
<line x1="113.7" y1="285.3" x2="137.4" y2="285.3" stroke="#7d7d7d" stroke-width="2.3"/>
<text class="sm" x="139.7" y="288.9" font-size="9.7" fill="#2a2a2a"><tspan font-style="italic">H</tspan><tspan font-size="6.5" dy="3.2">1</tspan><tspan dy="-3.2">: </tspan>1500</text>
<line x1="113.7" y1="300.9" x2="137.4" y2="300.9" stroke="#1f7fe8" stroke-width="2.3"/>
<text class="sm" x="139.7" y="304.5" font-size="9.7" fill="#2a2a2a"><tspan font-style="italic">H</tspan><tspan font-size="6.5" dy="3.2">1</tspan><tspan dy="-3.2">: </tspan>2500</text>
<line x1="113.7" y1="316.1" x2="137.4" y2="316.1" stroke="#0a7d0a" stroke-width="2.3"/>
<text class="sm" x="139.7" y="319.7" font-size="9.7" fill="#2a2a2a"><tspan font-style="italic">H</tspan><tspan font-size="6.5" dy="3.2">1</tspan><tspan dy="-3.2">=</tspan><tspan font-style="italic">H</tspan><tspan font-size="6.5" dy="3.2">2</tspan><tspan dy="-3.2">: </tspan>1500</text>
<line x1="113.7" y1="332.2" x2="137.4" y2="332.2" stroke="#f28a1c" stroke-width="2.3"/>
<text class="sm" x="139.7" y="335.8" font-size="9.7" fill="#2a2a2a"><tspan font-style="italic">H</tspan><tspan font-size="6.5" dy="3.2">1</tspan><tspan dy="-3.2">=</tspan><tspan font-style="italic">H</tspan><tspan font-size="6.5" dy="3.2">2</tspan><tspan dy="-3.2">: </tspan>2500</text>
<text x="60.4" y="380.8" font-size="14.5" text-anchor="start" fill="#2a2a2a" >(c)</text>
<path d="M69.4,422 C69.4,427 69.35,446.33 69.4,452 C69.45,457.67 68.77,455.05 69.7,456 C70.63,456.95 72.57,456.9 75,457.7 C77.43,458.5 80.27,459.87 84.3,460.8 C88.33,461.73 93.62,462.73 99.2,463.3 C104.78,463.87 110.67,464 117.8,464.2 C124.93,464.4 129.58,464.43 142,464.5 C154.42,464.57 183.92,464.58 192.3,464.6" fill="none" stroke="#f28a1c" stroke-width="2.6" stroke-linejoin="round" />
<path d="M75,457.7 C76.83,458.17 81.97,459.48 86,460.5 C90.03,461.52 93.9,462.97 99.2,463.8 C104.5,464.63 111,464.87 117.8,465.5 C124.6,466.13 134.63,466.92 140,467.6 C145.37,468.28 147.33,468.87 150,469.6 C152.67,470.33 154.33,471.02 156,472 C157.67,472.98 158.73,474.18 160,475.5 C161.27,476.82 162.13,478.22 163.6,479.9 C165.07,481.58 166.88,484.15 168.8,485.6 C170.72,487.05 172.65,487.82 175.1,488.6 C177.55,489.38 180.63,489.83 183.5,490.3 C186.37,490.77 190.83,491.22 192.3,491.4" fill="none" stroke="#7d7d7d" stroke-width="2.4" stroke-linejoin="round" />
<path d="M75,458 C76.87,458.88 82.17,461.97 86.2,463.3 C90.23,464.63 93.93,465.23 99.2,466 C104.47,466.77 111,467.22 117.8,467.9 C124.6,468.58 134.63,469.63 140,470.1 C145.37,470.57 146.93,470.12 150,470.7 C153.07,471.28 155.78,472.33 158.4,473.6 C161.02,474.87 163.27,476.55 165.7,478.3 C168.13,480.05 170.38,482.45 173,484.1 C175.62,485.75 178.18,487.08 181.4,488.2 C184.62,489.32 190.48,490.37 192.3,490.8" fill="none" stroke="#1f7fe8" stroke-width="2.6" stroke-linejoin="round" />
<path d="M75,458 C76.87,458.75 82.17,461.33 86.2,462.5 C90.23,463.67 96.42,464.47 99.2,465 C101.98,465.53 101.03,465.2 102.9,465.7 C104.77,466.2 108.53,466.55 110.4,468 C112.27,469.45 112.87,471.93 114.1,474.4 C115.33,476.87 116.25,480.32 117.8,482.8 C119.35,485.28 120.92,487.9 123.4,489.3 C125.88,490.7 129.6,490.82 132.7,491.2 C135.8,491.58 140.45,491.53 142,491.6" fill="none" stroke="#0a7d0a" stroke-width="2.6" stroke-linejoin="round" />
<path d="M140,492.02 L140.6,491.96 L141.2,492.26 L141.8,491.75 L142.4,491.85 L143,491.8 L143.6,492.21 L144.2,491.96 L144.8,491.9 L145.4,492.38 L146,492.66 L146.6,492.02 L147.2,492.45 L147.8,492.18 L148.4,492.64 L149,492.39 L149.6,492.1 L150.2,492.07 L150.8,491.89 L151.4,492.37 L152,492.3 L152.6,492.11 L153.2,492.31 L153.8,492.3 L154.4,492.77 L155,492.16 L155.6,493.03 L156.2,492.54 L156.8,492.68 L157.4,492.57 L158,492.95 L158.6,492.96 L159.2,492.72 L159.8,492.66 L160.4,492.92 L161,493.08 L161.6,492.64 L162.2,493 L162.8,493.24 L163.4,492.77 L164,492.56 L164.6,492.58 L165.2,493.08 L165.8,493.06 L166.4,493.37 L167,493.28 L167.6,492.69 L168.2,492.66 L168.8,492.75 L169.4,492.7 L170,493.24 L170.6,493.41 L171.2,493.47 L171.8,492.85 L172.4,493.48 L173,492.95 L173.6,493.08 L174.2,493.41 L174.8,492.78 L175.4,492.81 L176,493.57 L176.6,493.05 L177.2,493.14 L177.8,493.38 L178.4,493.5 L179,492.85 L179.6,493.2 L180.2,493.32 L180.8,493.39 L181.4,493.13 L182,493.53 L182.6,493.92 L183.2,493.38 L183.8,493.55 L184.4,493.15 L185,493.32 L185.6,493.73 L186.2,493.2 L186.8,494 L187.4,494.04 L188,493.25 L188.6,494.11 L189.2,493.57 L189.8,493.99 L190.4,493.99 L191,493.55 L191.6,493.95 L192.2,493.95" fill="none" stroke="#0a7d0a" stroke-width="2.9" stroke-linejoin="round" stroke-linecap="butt" />
<path d="M69.4,422 C69.4,427 69.35,446.33 69.4,452 C69.45,457.67 68.77,455.05 69.7,456 C70.63,456.95 72.57,456.9 75,457.7 C77.43,458.5 80.27,459.87 84.3,460.8 C88.33,461.73 93.62,462.73 99.2,463.3 C104.78,463.87 110.67,464 117.8,464.2 C124.93,464.4 129.58,464.43 142,464.5 C154.42,464.57 183.92,464.58 192.3,464.6" fill="none" stroke="#f28a1c" stroke-width="2.6" stroke-linejoin="round" />
<line x1="102.4" y1="410.3" x2="125.7" y2="410.3" stroke="#7d7d7d" stroke-width="2.3"/>
<text class="sm" x="128" y="413.9" font-size="9.7" fill="#2a2a2a"><tspan font-style="italic">H</tspan><tspan font-size="6.5" dy="3.2">1</tspan><tspan dy="-3.2">: </tspan>1500</text>
<line x1="102.4" y1="425.1" x2="125.7" y2="425.1" stroke="#1f7fe8" stroke-width="2.3"/>
<text class="sm" x="128" y="428.7" font-size="9.7" fill="#2a2a2a"><tspan font-style="italic">H</tspan><tspan font-size="6.5" dy="3.2">1</tspan><tspan dy="-3.2">: </tspan>2500</text>
<line x1="102.4" y1="440.5" x2="125.7" y2="440.5" stroke="#0a7d0a" stroke-width="2.3"/>
<text class="sm" x="128" y="444.1" font-size="9.7" fill="#2a2a2a"><tspan font-style="italic">H</tspan><tspan font-size="6.5" dy="3.2">1</tspan><tspan dy="-3.2">=</tspan><tspan font-style="italic">H</tspan><tspan font-size="6.5" dy="3.2">2</tspan><tspan dy="-3.2">: </tspan>1500</text>
<line x1="102.4" y1="455.8" x2="125.7" y2="455.8" stroke="#f28a1c" stroke-width="2.3"/>
<text class="sm" x="128" y="459.4" font-size="9.7" fill="#2a2a2a"><tspan font-style="italic">H</tspan><tspan font-size="6.5" dy="3.2">1</tspan><tspan dy="-3.2">=</tspan><tspan font-style="italic">H</tspan><tspan font-size="6.5" dy="3.2">2</tspan><tspan dy="-3.2">: </tspan>2500</text>
<text x="61.2" y="496.1" font-size="14.5" text-anchor="start" fill="#2a2a2a" >(d)</text>
<line x1="256.4" y1="20.5" x2="256.4" y2="125.9" stroke="#505050" stroke-width="1.1"/>
<line x1="256.4" y1="125.9" x2="404.3" y2="125.9" stroke="#505050" stroke-width="1.1"/>
<line x1="252.2" y1="112.6" x2="256.4" y2="112.6" stroke="#505050" stroke-width="1"/>
<line x1="252.2" y1="86.45" x2="256.4" y2="86.45" stroke="#505050" stroke-width="1"/>
<line x1="252.2" y1="60.3" x2="256.4" y2="60.3" stroke="#505050" stroke-width="1"/>
<line x1="252.2" y1="34.15" x2="256.4" y2="34.15" stroke="#505050" stroke-width="1"/>
<line x1="253.9" y1="125.67" x2="256.4" y2="125.67" stroke="#505050" stroke-width="1"/>
<line x1="253.9" y1="99.52" x2="256.4" y2="99.52" stroke="#505050" stroke-width="1"/>
<line x1="253.9" y1="73.38" x2="256.4" y2="73.38" stroke="#505050" stroke-width="1"/>
<line x1="253.9" y1="47.22" x2="256.4" y2="47.22" stroke="#505050" stroke-width="1"/>
<line x1="253.9" y1="21.08" x2="256.4" y2="21.08" stroke="#505050" stroke-width="1"/>
<line x1="280.8" y1="125.9" x2="280.8" y2="130.1" stroke="#505050" stroke-width="1"/>
<line x1="330.2" y1="125.9" x2="330.2" y2="130.1" stroke="#505050" stroke-width="1"/>
<line x1="379.6" y1="125.9" x2="379.6" y2="130.1" stroke="#505050" stroke-width="1"/>
<line x1="256.1" y1="125.9" x2="256.1" y2="128.4" stroke="#505050" stroke-width="1"/>
<line x1="305.5" y1="125.9" x2="305.5" y2="128.4" stroke="#505050" stroke-width="1"/>
<line x1="354.9" y1="125.9" x2="354.9" y2="128.4" stroke="#505050" stroke-width="1"/>
<line x1="404.3" y1="125.9" x2="404.3" y2="128.4" stroke="#505050" stroke-width="1"/>
<text x="280.8" y="141" font-size="11.5" text-anchor="middle" fill="#2a2a2a" >0.0</text>
<text x="330.2" y="141" font-size="11.5" text-anchor="middle" fill="#2a2a2a" >0.5</text>
<text x="379.6" y="141" font-size="11.5" text-anchor="middle" fill="#2a2a2a" >1.0</text>
<text x="249.9" y="116.2" font-size="11.5" text-anchor="end" fill="#2a2a2a" >0.0</text>
<text x="249.9" y="90.05" font-size="11.5" text-anchor="end" fill="#2a2a2a" >0.5</text>
<text x="249.9" y="63.9" font-size="11.5" text-anchor="end" fill="#2a2a2a" >1.0</text>
<text x="249.9" y="37.75" font-size="11.5" text-anchor="end" fill="#2a2a2a" >1.5</text>
<line x1="280.8" y1="112.6" x2="403.81" y2="47.49" stroke="#d86a6a" stroke-width="1"/>
<circle cx="280.8" cy="112.6" r="1.1" fill="#222"/>
<circle cx="290.68" cy="107.37" r="1.1" fill="#222"/>
<circle cx="300.56" cy="102.14" r="1.1" fill="#222"/>
<circle cx="310.44" cy="96.91" r="1.1" fill="#222"/>
<circle cx="320.32" cy="91.68" r="1.1" fill="#222"/>
<circle cx="330.2" cy="86.45" r="1.1" fill="#222"/>
<circle cx="340.08" cy="81.22" r="1.1" fill="#222"/>
<circle cx="349.96" cy="75.99" r="1.1" fill="#222"/>
<circle cx="359.84" cy="70.76" r="1.1" fill="#222"/>
<circle cx="369.72" cy="65.53" r="1.1" fill="#222"/>
<circle cx="379.6" cy="60.3" r="1.1" fill="#222"/>
<text x="345.4" y="95.5" font-size="12" fill="#2a2a2a"><tspan font-style="italic">r</tspan> = 1</text>
<text x="372.6" y="112.3" font-size="14.5" text-anchor="start" fill="#2a2a2a" >(e)</text>
<line x1="256.4" y1="136.3" x2="256.4" y2="241.9" stroke="#505050" stroke-width="1.1"/>
<line x1="256.4" y1="241.9" x2="404.3" y2="241.9" stroke="#505050" stroke-width="1.1"/>
<line x1="252.2" y1="228.5" x2="256.4" y2="228.5" stroke="#505050" stroke-width="1"/>
<line x1="252.2" y1="202.2" x2="256.4" y2="202.2" stroke="#505050" stroke-width="1"/>
<line x1="252.2" y1="175.9" x2="256.4" y2="175.9" stroke="#505050" stroke-width="1"/>
<line x1="252.2" y1="149.6" x2="256.4" y2="149.6" stroke="#505050" stroke-width="1"/>
<line x1="253.9" y1="241.65" x2="256.4" y2="241.65" stroke="#505050" stroke-width="1"/>
<line x1="253.9" y1="215.35" x2="256.4" y2="215.35" stroke="#505050" stroke-width="1"/>
<line x1="253.9" y1="189.05" x2="256.4" y2="189.05" stroke="#505050" stroke-width="1"/>
<line x1="253.9" y1="162.75" x2="256.4" y2="162.75" stroke="#505050" stroke-width="1"/>
<line x1="253.9" y1="136.45" x2="256.4" y2="136.45" stroke="#505050" stroke-width="1"/>
<line x1="280.8" y1="241.9" x2="280.8" y2="246.1" stroke="#505050" stroke-width="1"/>
<line x1="330.2" y1="241.9" x2="330.2" y2="246.1" stroke="#505050" stroke-width="1"/>
<line x1="379.6" y1="241.9" x2="379.6" y2="246.1" stroke="#505050" stroke-width="1"/>
<line x1="256.1" y1="241.9" x2="256.1" y2="244.4" stroke="#505050" stroke-width="1"/>
<line x1="305.5" y1="241.9" x2="305.5" y2="244.4" stroke="#505050" stroke-width="1"/>
<line x1="354.9" y1="241.9" x2="354.9" y2="244.4" stroke="#505050" stroke-width="1"/>
<line x1="404.3" y1="241.9" x2="404.3" y2="244.4" stroke="#505050" stroke-width="1"/>
<text x="280.8" y="257" font-size="11.5" text-anchor="middle" fill="#2a2a2a" >0</text>
<text x="330.2" y="257" font-size="11.5" text-anchor="middle" fill="#2a2a2a" >5</text>
<text x="379.6" y="257" font-size="11.5" text-anchor="middle" fill="#2a2a2a" >10</text>
<text x="249.9" y="232.1" font-size="11.5" text-anchor="end" fill="#2a2a2a" >0</text>
<text x="249.9" y="205.8" font-size="11.5" text-anchor="end" fill="#2a2a2a" >5</text>
<text x="249.9" y="179.5" font-size="11.5" text-anchor="end" fill="#2a2a2a" >10</text>
<text x="249.9" y="153.2" font-size="11.5" text-anchor="end" fill="#2a2a2a" >15</text>
<line x1="280.8" y1="228.5" x2="403.81" y2="163.01" stroke="#df8a8a" stroke-width="1"/>
<line x1="280.8" y1="228.5" x2="330.2" y2="202.2" stroke="#333" stroke-width="1.4" stroke-dasharray="3.4 3.6"/>
<line x1="333.16" y1="200.62" x2="375.65" y2="178" stroke="#444" stroke-width="1.3" stroke-dasharray="3 5.6"/>
<text x="347" y="212.1" font-size="12" fill="#2a2a2a"><tspan font-style="italic">r</tspan> = 0.9997</text>
<text x="374.8" y="231" font-size="14.5" text-anchor="start" fill="#2a2a2a" >(f)</text>
<text x="332.7" y="273" font-size="13" text-anchor="middle" fill="#2a2a2a" >Desired current (mA)</text>
<line x1="256.4" y1="283.7" x2="256.4" y2="389.2" stroke="#505050" stroke-width="1.1"/>
<line x1="256.4" y1="389.2" x2="403.7" y2="389.2" stroke="#505050" stroke-width="1.1"/>
<line x1="252.2" y1="377" x2="256.4" y2="377" stroke="#505050" stroke-width="1"/>
<line x1="252.2" y1="353.7" x2="256.4" y2="353.7" stroke="#505050" stroke-width="1"/>
<line x1="252.2" y1="330.4" x2="256.4" y2="330.4" stroke="#505050" stroke-width="1"/>
<line x1="252.2" y1="307.1" x2="256.4" y2="307.1" stroke="#505050" stroke-width="1"/>
<line x1="252.2" y1="283.8" x2="256.4" y2="283.8" stroke="#505050" stroke-width="1"/>
<line x1="253.9" y1="388.65" x2="256.4" y2="388.65" stroke="#505050" stroke-width="1"/>
<line x1="253.9" y1="365.35" x2="256.4" y2="365.35" stroke="#505050" stroke-width="1"/>
<line x1="253.9" y1="342.05" x2="256.4" y2="342.05" stroke="#505050" stroke-width="1"/>
<line x1="253.9" y1="318.75" x2="256.4" y2="318.75" stroke="#505050" stroke-width="1"/>
<line x1="253.9" y1="295.45" x2="256.4" y2="295.45" stroke="#505050" stroke-width="1"/>
<line x1="277.6" y1="389.2" x2="277.6" y2="393.4" stroke="#505050" stroke-width="1"/>
<line x1="319.63" y1="389.2" x2="319.63" y2="393.4" stroke="#505050" stroke-width="1"/>
<line x1="361.66" y1="389.2" x2="361.66" y2="393.4" stroke="#505050" stroke-width="1"/>
<line x1="403.69" y1="389.2" x2="403.69" y2="393.4" stroke="#505050" stroke-width="1"/>
<line x1="256.59" y1="389.2" x2="256.59" y2="391.7" stroke="#505050" stroke-width="1"/>
<line x1="298.62" y1="389.2" x2="298.62" y2="391.7" stroke="#505050" stroke-width="1"/>
<line x1="340.65" y1="389.2" x2="340.65" y2="391.7" stroke="#505050" stroke-width="1"/>
<line x1="382.68" y1="389.2" x2="382.68" y2="391.7" stroke="#505050" stroke-width="1"/>
<text x="277.6" y="404.5" font-size="11.5" text-anchor="middle" fill="#2a2a2a" >0</text>
<text x="319.63" y="404.5" font-size="11.5" text-anchor="middle" fill="#2a2a2a" >1</text>
<text x="361.66" y="404.5" font-size="11.5" text-anchor="middle" fill="#2a2a2a" >2</text>
<text x="403.69" y="404.5" font-size="11.5" text-anchor="middle" fill="#2a2a2a" >3</text>
<text x="249.9" y="380.6" font-size="11.5" text-anchor="end" fill="#2a2a2a" >0</text>
<text x="249.9" y="357.3" font-size="11.5" text-anchor="end" fill="#2a2a2a" >1</text>
<text x="249.9" y="334" font-size="11.5" text-anchor="end" fill="#2a2a2a" >2</text>
<text x="249.9" y="310.7" font-size="11.5" text-anchor="end" fill="#2a2a2a" >3</text>
<text x="249.9" y="287.4" font-size="11.5" text-anchor="end" fill="#2a2a2a" >4</text>
<line x1="277.6" y1="377" x2="403.69" y2="307.1" stroke="#d86a6a" stroke-width="1.1"/>
<line x1="277.6" y1="377" x2="401.59" y2="308.26" stroke="#2a2a2a" stroke-width="1.3" stroke-dasharray="2 2.3"/>
<text x="339.7" y="360.5" font-size="12" fill="#2a2a2a"><tspan font-style="italic">r</tspan> = 0.9997</text>
<text x="369.9" y="380" font-size="14.5" text-anchor="start" fill="#2a2a2a" >(g)</text>
<line x1="256.4" y1="399.5" x2="256.4" y2="504.7" stroke="#505050" stroke-width="1.1"/>
<line x1="256.4" y1="504.7" x2="403.5" y2="504.7" stroke="#505050" stroke-width="1.1"/>
<line x1="252.2" y1="498" x2="256.4" y2="498" stroke="#505050" stroke-width="1"/>
<line x1="252.2" y1="473.4" x2="256.4" y2="473.4" stroke="#505050" stroke-width="1"/>
<line x1="252.2" y1="448.8" x2="256.4" y2="448.8" stroke="#505050" stroke-width="1"/>
<line x1="252.2" y1="424.2" x2="256.4" y2="424.2" stroke="#505050" stroke-width="1"/>
<line x1="252.2" y1="399.6" x2="256.4" y2="399.6" stroke="#505050" stroke-width="1"/>
<line x1="253.9" y1="485.7" x2="256.4" y2="485.7" stroke="#505050" stroke-width="1"/>
<line x1="253.9" y1="461.1" x2="256.4" y2="461.1" stroke="#505050" stroke-width="1"/>
<line x1="253.9" y1="436.5" x2="256.4" y2="436.5" stroke="#505050" stroke-width="1"/>
<line x1="253.9" y1="411.9" x2="256.4" y2="411.9" stroke="#505050" stroke-width="1"/>
<line x1="269.8" y1="504.7" x2="269.8" y2="508.9" stroke="#505050" stroke-width="1"/>
<line x1="296.55" y1="504.7" x2="296.55" y2="508.9" stroke="#505050" stroke-width="1"/>
<line x1="323.3" y1="504.7" x2="323.3" y2="508.9" stroke="#505050" stroke-width="1"/>
<line x1="350.05" y1="504.7" x2="350.05" y2="508.9" stroke="#505050" stroke-width="1"/>
<line x1="376.8" y1="504.7" x2="376.8" y2="508.9" stroke="#505050" stroke-width="1"/>
<line x1="403.55" y1="504.7" x2="403.55" y2="508.9" stroke="#505050" stroke-width="1"/>
<line x1="256.43" y1="504.7" x2="256.43" y2="507.2" stroke="#505050" stroke-width="1"/>
<line x1="283.18" y1="504.7" x2="283.18" y2="507.2" stroke="#505050" stroke-width="1"/>
<line x1="309.93" y1="504.7" x2="309.93" y2="507.2" stroke="#505050" stroke-width="1"/>
<line x1="336.68" y1="504.7" x2="336.68" y2="507.2" stroke="#505050" stroke-width="1"/>
<line x1="363.43" y1="504.7" x2="363.43" y2="507.2" stroke="#505050" stroke-width="1"/>
<line x1="390.18" y1="504.7" x2="390.18" y2="507.2" stroke="#505050" stroke-width="1"/>
<text x="269.8" y="520" font-size="11.5" text-anchor="middle" fill="#2a2a2a" >0</text>
<text x="296.55" y="520" font-size="11.5" text-anchor="middle" fill="#2a2a2a" >5</text>
<text x="323.3" y="520" font-size="11.5" text-anchor="middle" fill="#2a2a2a" >10</text>
<text x="350.05" y="520" font-size="11.5" text-anchor="middle" fill="#2a2a2a" >15</text>
<text x="376.8" y="520" font-size="11.5" text-anchor="middle" fill="#2a2a2a" >20</text>
<text x="403.55" y="520" font-size="11.5" text-anchor="middle" fill="#2a2a2a" >25</text>
<text x="249.9" y="501.6" font-size="11.5" text-anchor="end" fill="#2a2a2a" >0</text>
<text x="249.9" y="477" font-size="11.5" text-anchor="end" fill="#2a2a2a" >10</text>
<text x="249.9" y="452.4" font-size="11.5" text-anchor="end" fill="#2a2a2a" >20</text>
<text x="249.9" y="427.8" font-size="11.5" text-anchor="end" fill="#2a2a2a" >30</text>
<text x="249.9" y="403.2" font-size="11.5" text-anchor="end" fill="#2a2a2a" >40</text>
<line x1="269.8" y1="498" x2="403.55" y2="436.5" stroke="#dc9a9a" stroke-width="1.1"/>
<line x1="269.8" y1="498" x2="371.45" y2="451.26" stroke="#2e1818" stroke-width="1.7"/>
<line x1="371.45" y1="451.26" x2="390.18" y2="442.65" stroke="#7a4545" stroke-width="1.4"/>
<text x="343.8" y="480.5" font-size="12" fill="#2a2a2a"><tspan font-style="italic">r</tspan> = 0.9995</text>
<text x="371.5" y="496.5" font-size="14.5" text-anchor="start" fill="#2a2a2a" >(h)</text>
<text x="330.2" y="536.9" font-size="13" text-anchor="middle" fill="#2a2a2a" >Desired current (mA)</text>
<text x="0" y="0" font-size="13" text-anchor="middle" fill="#2a2a2a" transform="translate(226.2,133.8) rotate(-90)">Output current (mA)</text>
<text x="0" y="0" font-size="13" text-anchor="middle" fill="#2a2a2a" transform="translate(227.7,384.4) rotate(-90)">Output current (mA)</text>
<rect x="291.3" y="66.3" width="3.7" height="0.6" fill="#e80808" stroke="#9a0000" stroke-width="0.45"/>
<rect x="295" y="64.2" width="3.1" height="2.7" fill="#e80808" stroke="#9a0000" stroke-width="0.45"/>
<rect x="298.1" y="59.5" width="3.4" height="7.4" fill="#e80808" stroke="#9a0000" stroke-width="0.45"/>
<rect x="301.5" y="51.2" width="3.2" height="15.7" fill="#e80808" stroke="#9a0000" stroke-width="0.45"/>
<rect x="304.7" y="34.9" width="3.1" height="32" fill="#e80808" stroke="#9a0000" stroke-width="0.45"/>
<rect x="307.8" y="31.1" width="3.4" height="35.8" fill="#e80808" stroke="#9a0000" stroke-width="0.45"/>
<rect x="311.2" y="55.3" width="3.1" height="11.6" fill="#e80808" stroke="#9a0000" stroke-width="0.45"/>
<rect x="314.3" y="61.6" width="3.3" height="5.3" fill="#e80808" stroke="#9a0000" stroke-width="0.45"/>
<rect x="317.6" y="64.8" width="3.5" height="2.1" fill="#e80808" stroke="#9a0000" stroke-width="0.45"/>
<rect x="321.1" y="66.3" width="3.1" height="0.6" fill="#e80808" stroke="#9a0000" stroke-width="0.45"/>
<line x1="278.6" y1="66.9" x2="338" y2="66.9" stroke="#606060" stroke-width="0.9"/>
<text x="275.3" y="69.5" font-size="9" text-anchor="middle" fill="#2a2a2a" class="sm">0</text>
<text x="275.3" y="56.8" font-size="9" text-anchor="middle" fill="#2a2a2a" class="sm">1</text>
<text x="275.3" y="44.4" font-size="9" text-anchor="middle" fill="#2a2a2a" class="sm">2</text>
<text x="284.5" y="74.9" font-size="9" text-anchor="middle" fill="#2a2a2a" class="sm">-1.5</text>
<text x="307.4" y="74.9" font-size="9" text-anchor="middle" fill="#2a2a2a" class="sm">0.0</text>
<text x="331.6" y="74.9" font-size="9" text-anchor="middle" fill="#2a2a2a" class="sm">1.5</text>
<text x="307.9" y="83.4" font-size="9.8" text-anchor="middle" fill="#2a2a2a" class="sm">Error (μA)</text>
<text transform="translate(270.5,49) rotate(-90)" class="sm" x="0" y="0" font-size="9" text-anchor="middle" fill="#2a2a2a">Count (x10<tspan font-size="5.5" dy="-3.5">4</tspan><tspan dy="3.5">)</tspan></text>
<rect x="291.2" y="185.5" width="3.2" height="0.7" fill="#e80808" stroke="#9a0000" stroke-width="0.45"/>
<rect x="294.4" y="183.1" width="3" height="3.1" fill="#e80808" stroke="#9a0000" stroke-width="0.45"/>
<rect x="297.4" y="177.1" width="3.6" height="9.1" fill="#e80808" stroke="#9a0000" stroke-width="0.45"/>
<rect x="301" y="166.9" width="3.2" height="19.3" fill="#e80808" stroke="#9a0000" stroke-width="0.45"/>
<rect x="304.2" y="157.1" width="3.1" height="29.1" fill="#e80808" stroke="#9a0000" stroke-width="0.45"/>
<rect x="307.3" y="150.6" width="3.4" height="35.6" fill="#e80808" stroke="#9a0000" stroke-width="0.45"/>
<rect x="310.7" y="172.9" width="3.3" height="13.3" fill="#e80808" stroke="#9a0000" stroke-width="0.45"/>
<rect x="314" y="179.4" width="3.2" height="6.8" fill="#e80808" stroke="#9a0000" stroke-width="0.45"/>
<rect x="317.2" y="182.2" width="3.3" height="4" fill="#e80808" stroke="#9a0000" stroke-width="0.45"/>
<rect x="320.5" y="184.5" width="3.2" height="1.7" fill="#e80808" stroke="#9a0000" stroke-width="0.45"/>
<rect x="323.7" y="185.6" width="2.8" height="0.6" fill="#e80808" stroke="#9a0000" stroke-width="0.45"/>
<line x1="282" y1="186.2" x2="339.8" y2="186.2" stroke="#606060" stroke-width="0.9"/>
<text x="277.4" y="189.4" font-size="9" text-anchor="middle" fill="#2a2a2a" class="sm">0</text>
<text x="277.4" y="174.8" font-size="9" text-anchor="middle" fill="#2a2a2a" class="sm">1</text>
<text x="277.4" y="160.8" font-size="9" text-anchor="middle" fill="#2a2a2a" class="sm">2</text>
<text x="287.7" y="195.2" font-size="9" text-anchor="middle" fill="#2a2a2a" class="sm">-60</text>
<text x="307.2" y="195.2" font-size="9" text-anchor="middle" fill="#2a2a2a" class="sm">0</text>
<text x="325.8" y="195.2" font-size="9" text-anchor="middle" fill="#2a2a2a" class="sm">60</text>
<text x="310" y="203" font-size="9.8" text-anchor="middle" fill="#2a2a2a" class="sm">Error (μA)</text>
<text transform="translate(272,167.4) rotate(-90)" class="sm" x="0" y="0" font-size="9" text-anchor="middle" fill="#2a2a2a">Count (x10<tspan font-size="5.5" dy="-3.5">4</tspan><tspan dy="3.5">)</tspan></text>
<rect x="294.7" y="331" width="2.7" height="0.9" fill="#e80808" stroke="#9a0000" stroke-width="0.45"/>
<rect x="297.4" y="328.9" width="2.8" height="3" fill="#e80808" stroke="#9a0000" stroke-width="0.45"/>
<rect x="300.2" y="323.2" width="2.8" height="8.7" fill="#e80808" stroke="#9a0000" stroke-width="0.45"/>
<rect x="303" y="313.3" width="3" height="18.6" fill="#e80808" stroke="#9a0000" stroke-width="0.45"/>
<rect x="306" y="299" width="2.8" height="32.9" fill="#e80808" stroke="#9a0000" stroke-width="0.45"/>
<rect x="308.8" y="293.6" width="3.1" height="38.3" fill="#e80808" stroke="#9a0000" stroke-width="0.45"/>
<rect x="311.9" y="313.3" width="2.8" height="18.6" fill="#e80808" stroke="#9a0000" stroke-width="0.45"/>
<rect x="314.7" y="323.3" width="2.7" height="8.6" fill="#e80808" stroke="#9a0000" stroke-width="0.45"/>
<rect x="317.4" y="328.9" width="2.8" height="3" fill="#e80808" stroke="#9a0000" stroke-width="0.45"/>
<rect x="320.2" y="331" width="2.8" height="0.9" fill="#e80808" stroke="#9a0000" stroke-width="0.45"/>
<line x1="280.4" y1="331.9" x2="336.3" y2="331.9" stroke="#606060" stroke-width="0.9"/>
<line x1="280.4" y1="290" x2="280.4" y2="331.9" stroke="#606060" stroke-width="0.9"/>
<text x="277.3" y="335" font-size="9" text-anchor="middle" fill="#2a2a2a" class="sm">0</text>
<text x="277.3" y="325.7" font-size="9" text-anchor="middle" fill="#2a2a2a" class="sm">2</text>
<text x="277.3" y="314.8" font-size="9" text-anchor="middle" fill="#2a2a2a" class="sm">4</text>
<text x="277.3" y="303.8" font-size="9" text-anchor="middle" fill="#2a2a2a" class="sm">6</text>
<text x="277.3" y="293.6" font-size="9" text-anchor="middle" fill="#2a2a2a" class="sm">8</text>
<text x="290.1" y="341.2" font-size="9" text-anchor="middle" fill="#2a2a2a" class="sm">-20</text>
<text x="309.2" y="341.2" font-size="9" text-anchor="middle" fill="#2a2a2a" class="sm">0</text>
<text x="328.3" y="341.2" font-size="9" text-anchor="middle" fill="#2a2a2a" class="sm">20</text>
<text x="309" y="349" font-size="9.8" text-anchor="middle" fill="#2a2a2a" class="sm">Error (μA)</text>
<text transform="translate(272.5,312.5) rotate(-90)" class="sm" x="0" y="0" font-size="9" text-anchor="middle" fill="#2a2a2a">Count (x10<tspan font-size="5.5" dy="-3.5">4</tspan><tspan dy="3.5">)</tspan></text>
<rect x="286.7" y="453.3" width="2.8" height="0.6" fill="#e80808" stroke="#9a0000" stroke-width="0.45"/>
<rect x="289.5" y="451.4" width="2.8" height="2.5" fill="#e80808" stroke="#9a0000" stroke-width="0.45"/>
<rect x="292.3" y="447.7" width="2.6" height="6.2" fill="#e80808" stroke="#9a0000" stroke-width="0.45"/>
<rect x="294.9" y="440.2" width="2.5" height="13.7" fill="#e80808" stroke="#9a0000" stroke-width="0.45"/>
<rect x="297.4" y="431.4" width="2.6" height="22.5" fill="#e80808" stroke="#9a0000" stroke-width="0.45"/>
<rect x="300" y="423.5" width="2.5" height="30.4" fill="#e80808" stroke="#9a0000" stroke-width="0.45"/>
<rect x="302.5" y="417.4" width="3.3" height="36.5" fill="#e80808" stroke="#9a0000" stroke-width="0.45"/>
<rect x="305.8" y="431.4" width="2.5" height="22.5" fill="#e80808" stroke="#9a0000" stroke-width="0.45"/>
<rect x="308.3" y="440.2" width="2.6" height="13.7" fill="#e80808" stroke="#9a0000" stroke-width="0.45"/>
<rect x="310.9" y="447.2" width="2.8" height="6.7" fill="#e80808" stroke="#9a0000" stroke-width="0.45"/>
<rect x="313.7" y="452.3" width="2.8" height="1.6" fill="#e80808" stroke="#9a0000" stroke-width="0.45"/>
<rect x="316.5" y="453.3" width="2.8" height="0.6" fill="#e80808" stroke="#9a0000" stroke-width="0.45"/>
<line x1="274.8" y1="453.9" x2="330.1" y2="453.9" stroke="#606060" stroke-width="0.9"/>
<text x="272.2" y="457.2" font-size="9" text-anchor="middle" fill="#2a2a2a" class="sm">0</text>
<text x="272.2" y="445.2" font-size="9" text-anchor="middle" fill="#2a2a2a" class="sm">2</text>
<text x="272.2" y="432.5" font-size="9" text-anchor="middle" fill="#2a2a2a" class="sm">4</text>
<text x="272.2" y="419.8" font-size="9" text-anchor="middle" fill="#2a2a2a" class="sm">6</text>
<text x="285.1" y="462.6" font-size="9" text-anchor="middle" fill="#2a2a2a" class="sm">-200</text>
<text x="303.4" y="462.6" font-size="9" text-anchor="middle" fill="#2a2a2a" class="sm">0</text>
<text x="321.8" y="462.6" font-size="9" text-anchor="middle" fill="#2a2a2a" class="sm">200</text>
<text x="303.6" y="471.9" font-size="9.8" text-anchor="middle" fill="#2a2a2a" class="sm">Error (μA)</text>
<text transform="translate(267.3,436) rotate(-90)" class="sm" x="0" y="0" font-size="9" text-anchor="middle" fill="#2a2a2a">Count (x10<tspan font-size="5.5" dy="-3.5">4</tspan><tspan dy="3.5">)</tspan></text>
</svg></body></html>
